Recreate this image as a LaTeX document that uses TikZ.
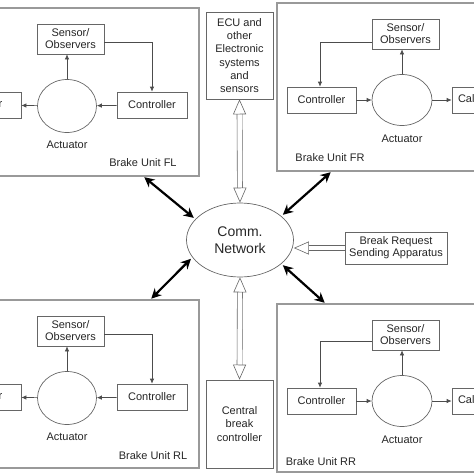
\documentclass[tikz,border=0pt]{standalone}
\usepackage{fontspec}
\setmainfont{Liberation Sans}
\usetikzlibrary{arrows.meta,shapes}
\tikzstyle{box} = [draw=black!60, line width=0.7pt, fill=white, minimum height=26pt, align=center, text=black!85, font=\fontsize{11}{12}\selectfont]
\tikzstyle{unit} = [draw=black!40, line width=1.1pt]
\tikzstyle{arrow} = [draw, line width=0.7pt, color=black!70, -{Latex[length=5pt,width=4.5pt]}]
\tikzstyle{bus} = [draw, line width=2.2pt, color=black, {Stealth[length=10pt,width=10pt]}-{Stealth[length=10pt,width=10pt]}, shorten <=1pt, shorten >=2pt]
\tikzstyle{hollow} = [draw=black!60, line width=0.6pt, double=white, double distance=4.5pt]

\begin{document}
\begin{tikzpicture}[x=1pt,y=-1pt,font=\fontsize{11}{12}\selectfont,text=black!85]
\useasboundingbox (0,0) rectangle (474,474);
\clip (0,0) rectangle (474,474);

%%% %%%
% Left brake units
%%% %%%

\foreach \u/\dy/\lx/\ly in {FL/0/143/163,RL/292/153/456} {
\node[unit,minimum width=209pt,minimum height=168pt] (\u) at (94.5,92+\dy) {};
\node[box,minimum width=67pt,minimum height=30pt] (\u SEN) at (70.5,39+\dy) {Sensor/\\Observers};
\node[draw=black!60,line width=0.7pt,ellipse,minimum width=59pt,minimum height=53pt] (\u ACT) at (67,106+\dy) {};
\node[box,minimum width=70pt] (\u CTL) at (152,105+\dy) {Controller};
\node[box,minimum width=72pt] (\u CAL) at (-15,105+\dy) {Caliper};
\node (\u ACTL) at (67,145+\dy) {Actuator};
\node (\u LAB) at (\lx,\ly) {Brake Unit \u};
\draw [arrow] (\u ACT.north) -- (\u ACT.north |- \u SEN.south);
\draw [arrow] ([yshift=-3pt]\u SEN.east) -| (\u CTL.north);
\draw [arrow] (\u CTL) -- (\u ACT);
\draw [arrow] (\u ACT) -- (\u CAL);
}

%%% %%%
% Right brake units
%%% %%%

\foreach \u/\dy/\lx/\ly/\sy in {FR/0/330/158/-8,RR/301/321/462/-6} {
\node[unit,minimum width=213pt,minimum height=168pt] (\u) at (383.5,87+\dy) {};
\node[box,minimum width=67pt,minimum height=30pt] (\u SEN) at (405.5,34+\dy) {Sensor/\\Observers};
\node[draw=black!60,line width=0.7pt,ellipse,minimum width=60pt,minimum height=51pt] (\u ACT) at (402,100+\dy) {};
\node[box,minimum width=69pt] (\u CTL) at (321.5,100+\dy) {Controller};
\node[box,minimum width=62pt,text width=50pt,align=left,inner xsep=6pt] (\u CAL) at (483,100+\dy) {Caliper};
\node (\u ACTL) at (402,139+\dy) {Actuator};
\node (\u LAB) at (\lx,\ly) {Brake Unit \u};
\draw [arrow] (\u ACT.north) -- (\u ACT.north |- \u SEN.south);
\draw [arrow] ([yshift=\sy pt]\u SEN.west) -| ([xshift=-1.5pt]\u CTL.north);
\draw [arrow] (\u CTL) -- (\u ACT);
\draw [arrow] (\u ACT) -- (\u CAL);
}

%%% %%%
% Network and central boxes
%%% %%%

\node[draw=black!60,line width=0.7pt,ellipse,minimum width=107pt,minimum height=74pt,align=center,font=\fontsize{14}{17}\selectfont] (NET) at (240,240) {Comm.\\Network};
\node[box,minimum width=67pt,minimum height=87pt,font=\fontsize{11}{13.2}\selectfont] (ECU) at (239.5,55.5) {ECU and\\other\\Electronic\\systems\\and\\sensors};
\node[box,minimum width=67pt,minimum height=88pt,font=\fontsize{11}{13.5}\selectfont] (CBC) at (239.5,424) {Central\\break\\controller};
\node[box,minimum width=102pt,minimum height=32pt] (REQ) at (396,248) {Break Request\\Sending Apparatus};

%%%
% Arrows: hollow
%%%

\draw [hollow,{Triangle[open,length=15pt,width=13pt]}-{Triangle[open,length=15pt,width=13pt]}] (ECU.south) -- (NET.north);
\draw [hollow,{Triangle[open,length=15pt,width=13pt]}-{Triangle[open,length=15pt,width=13pt]}] (CBC.north) -- (NET.south);
\draw [hollow,-{Triangle[open,length=15pt,width=13pt]}] (REQ.west) -- (REQ.west -| NET.east);

%%%
% Arrows: bus
%%%

\draw [bus] ([xshift=-56pt]FL.south east) -- (NET.155);
\draw [bus] ([xshift=55pt]FR.south west) -- (NET.30);
\draw [bus] ([xshift=-49pt]RL.north east) -- (NET.200);
\draw [bus] ([xshift=49pt]RR.north west) -- (NET.330);

\end{tikzpicture}
\end{document}
